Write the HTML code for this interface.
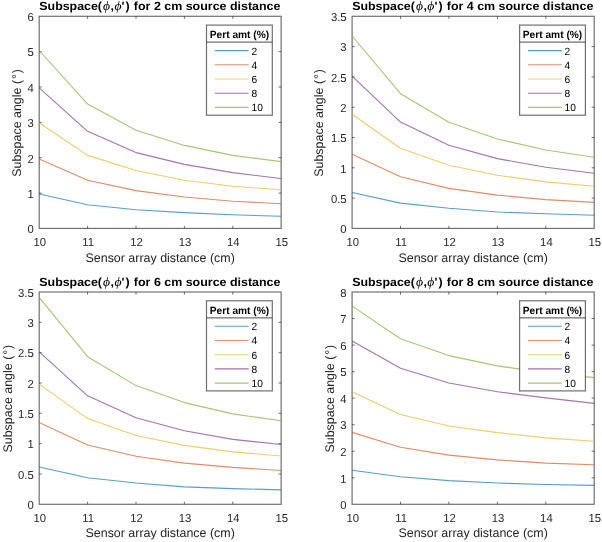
<!DOCTYPE html>
<html lang="en">
<head>
<meta charset="utf-8">
<title>Subspace angle vs sensor array distance</title>
<style>html,body{margin:0;padding:0;background:#fff}svg{display:block}</style>
</head>
<body>
<svg width="602" height="542" viewBox="0 0 602 542" text-rendering="geometricPrecision" font-family="'Liberation Sans', Arial, Helvetica, sans-serif">
<rect width="602" height="542" fill="#fff"/>
<g>
<rect x="39.2" y="16.3" width="241.95" height="212.15" fill="none" stroke="#262626" stroke-opacity="0.66" stroke-width="1.2"/>
<path d="M87.6,228.45v-2.6M87.6,16.3v2.6M136.0,228.45v-2.6M136.0,16.3v2.6M184.4,228.45v-2.6M184.4,16.3v2.6M232.8,228.45v-2.6M232.8,16.3v2.6M39.2,193.1h2.6M281.15,193.1h-2.6M39.2,157.7h2.6M281.15,157.7h-2.6M39.2,122.4h2.6M281.15,122.4h-2.6M39.2,87.0h2.6M281.15,87.0h-2.6M39.2,51.7h2.6M281.15,51.7h-2.6" stroke="#262626" stroke-opacity="0.66" stroke-width="1.0" fill="none"/>
<polyline points="39.2,194.0 87.6,204.8 136.0,209.8 184.4,212.6 232.8,214.8 281.1,216.3" fill="none" stroke="#0072BD" stroke-width="1.1" stroke-opacity="0.68" stroke-linejoin="round"/>
<polyline points="39.2,159.0 87.6,180.2 136.0,190.6 184.4,197.0 232.8,201.2 281.1,203.7" fill="none" stroke="#D95319" stroke-width="1.1" stroke-opacity="0.68" stroke-linejoin="round"/>
<polyline points="39.2,122.8 87.6,155.4 136.0,170.5 184.4,180.2 232.8,186.3 281.1,189.7" fill="none" stroke="#EDB120" stroke-width="1.1" stroke-opacity="0.68" stroke-linejoin="round"/>
<polyline points="39.2,87.9 87.6,131.3 136.0,152.6 184.4,164.4 232.8,172.6 281.1,178.5" fill="none" stroke="#7E2F8E" stroke-width="1.1" stroke-opacity="0.68" stroke-linejoin="round"/>
<polyline points="39.2,50.5 87.6,104.1 136.0,130.2 184.4,145.4 232.8,155.4 281.1,161.6" fill="none" stroke="#77AC30" stroke-width="1.1" stroke-opacity="0.68" stroke-linejoin="round"/>
<text transform="translate(39.80,245.75) scale(1.0,1.025)" font-size="11.3" text-anchor="middle" font-weight="normal" fill="#262626">10</text>
<text transform="translate(88.19,245.75) scale(1.0,1.025)" font-size="11.3" text-anchor="middle" font-weight="normal" fill="#262626">11</text>
<text transform="translate(136.58,245.75) scale(1.0,1.025)" font-size="11.3" text-anchor="middle" font-weight="normal" fill="#262626">12</text>
<text transform="translate(184.97,245.75) scale(1.0,1.025)" font-size="11.3" text-anchor="middle" font-weight="normal" fill="#262626">13</text>
<text transform="translate(233.36,245.75) scale(1.0,1.025)" font-size="11.3" text-anchor="middle" font-weight="normal" fill="#262626">14</text>
<text transform="translate(281.75,245.75) scale(1.0,1.025)" font-size="11.3" text-anchor="middle" font-weight="normal" fill="#262626">15</text>
<text transform="translate(33.70,233.25) scale(1.0,1.025)" font-size="11.3" text-anchor="end" font-weight="normal" fill="#262626">0</text>
<text transform="translate(33.70,197.89) scale(1.0,1.025)" font-size="11.3" text-anchor="end" font-weight="normal" fill="#262626">1</text>
<text transform="translate(33.70,162.53) scale(1.0,1.025)" font-size="11.3" text-anchor="end" font-weight="normal" fill="#262626">2</text>
<text transform="translate(33.70,127.17) scale(1.0,1.025)" font-size="11.3" text-anchor="end" font-weight="normal" fill="#262626">3</text>
<text transform="translate(33.70,91.82) scale(1.0,1.025)" font-size="11.3" text-anchor="end" font-weight="normal" fill="#262626">4</text>
<text transform="translate(33.70,56.46) scale(1.0,1.025)" font-size="11.3" text-anchor="end" font-weight="normal" fill="#262626">5</text>
<text transform="translate(33.70,21.10) scale(1.0,1.025)" font-size="11.3" text-anchor="end" font-weight="normal" fill="#262626">6</text>
<text x="160.17" y="261.55" font-size="12.45" text-anchor="middle" fill="#262626">Sensor array distance (cm)</text>
<text transform="translate(20.60,122.88) rotate(-90)" font-size="12.45" text-anchor="middle" fill="#262626">Subspace angle (<tspan dx="0.9">°</tspan><tspan dx="0.9">)</tspan></text>
<text transform="translate(0,10.40) scale(1,0.95)" font-size="12.45" font-weight="bold" fill="#000"><tspan x="39.30" font-size="12.4">Subspace(</tspan><tspan x="103.00" font-family="'Liberation Serif', 'DejaVu Serif', serif" font-style="italic" font-weight="normal" font-size="13.6">ϕ</tspan><tspan x="110.50">,</tspan><tspan x="114.40" font-family="'Liberation Serif', 'DejaVu Serif', serif" font-style="italic" font-weight="normal" font-size="13.6">ϕ</tspan><tspan x="121.50">'</tspan><tspan x="125.60">)</tspan><tspan x="130.40"> for 2 cm source distance</tspan></text>
<rect x="206.5" y="25.1" width="65.8" height="90.1" fill="#fff" stroke="#262626" stroke-opacity="0.66" stroke-width="1.2"/>
<path d="M206.5,42.2H272.3" stroke="#262626" stroke-opacity="0.66" stroke-width="1.2"/>
<text transform="translate(239.45,37.80) scale(1.0,1.025)" font-size="10.2" text-anchor="middle" font-weight="bold" fill="#000">Pert amt (%)</text>
<path d="M214.8,50.6H248.7" stroke="#0072BD" stroke-width="1.1" stroke-opacity="0.68"/>
<text transform="translate(251.55,54.50) scale(1.0,1.025)" font-size="10.2" text-anchor="start" font-weight="normal" fill="#000">2</text>
<path d="M214.8,64.8H248.7" stroke="#D95319" stroke-width="1.1" stroke-opacity="0.68"/>
<text transform="translate(251.55,68.70) scale(1.0,1.025)" font-size="10.2" text-anchor="start" font-weight="normal" fill="#000">4</text>
<path d="M214.8,79.0H248.7" stroke="#EDB120" stroke-width="1.1" stroke-opacity="0.68"/>
<text transform="translate(251.55,82.90) scale(1.0,1.025)" font-size="10.2" text-anchor="start" font-weight="normal" fill="#000">6</text>
<path d="M214.8,93.2H248.7" stroke="#7E2F8E" stroke-width="1.1" stroke-opacity="0.68"/>
<text transform="translate(251.55,97.10) scale(1.0,1.025)" font-size="10.2" text-anchor="start" font-weight="normal" fill="#000">8</text>
<path d="M214.8,107.4H248.7" stroke="#77AC30" stroke-width="1.1" stroke-opacity="0.68"/>
<text transform="translate(251.55,111.30) scale(1.0,1.025)" font-size="10.2" text-anchor="start" font-weight="normal" fill="#000">10</text>
</g>
<g>
<rect x="352.1" y="16.3" width="242.10" height="212.15" fill="none" stroke="#262626" stroke-opacity="0.66" stroke-width="1.2"/>
<path d="M400.5,228.45v-2.6M400.5,16.3v2.6M448.9,228.45v-2.6M448.9,16.3v2.6M497.4,228.45v-2.6M497.4,16.3v2.6M545.8,228.45v-2.6M545.8,16.3v2.6M352.1,198.1h2.6M594.2,198.1h-2.6M352.1,167.8h2.6M594.2,167.8h-2.6M352.1,137.5h2.6M594.2,137.5h-2.6M352.1,107.2h2.6M594.2,107.2h-2.6M352.1,76.9h2.6M594.2,76.9h-2.6M352.1,46.6h2.6M594.2,46.6h-2.6" stroke="#262626" stroke-opacity="0.66" stroke-width="1.0" fill="none"/>
<polyline points="352.1,192.5 400.5,203.1 448.9,208.3 497.4,212.0 545.8,213.7 594.2,215.2" fill="none" stroke="#0072BD" stroke-width="1.1" stroke-opacity="0.68" stroke-linejoin="round"/>
<polyline points="352.1,154.3 400.5,176.7 448.9,188.4 497.4,195.1 545.8,199.6 594.2,202.4" fill="none" stroke="#D95319" stroke-width="1.1" stroke-opacity="0.68" stroke-linejoin="round"/>
<polyline points="352.1,114.2 400.5,148.2 448.9,165.3 497.4,175.2 545.8,181.9 594.2,186.3" fill="none" stroke="#EDB120" stroke-width="1.1" stroke-opacity="0.68" stroke-linejoin="round"/>
<polyline points="352.1,76.2 400.5,122.1 448.9,145.2 497.4,158.6 545.8,167.2 594.2,173.3" fill="none" stroke="#7E2F8E" stroke-width="1.1" stroke-opacity="0.68" stroke-linejoin="round"/>
<polyline points="352.1,36.0 400.5,93.7 448.9,122.3 497.4,139.0 545.8,150.0 594.2,157.3" fill="none" stroke="#77AC30" stroke-width="1.1" stroke-opacity="0.68" stroke-linejoin="round"/>
<text transform="translate(352.70,245.75) scale(1.0,1.025)" font-size="11.3" text-anchor="middle" font-weight="normal" fill="#262626">10</text>
<text transform="translate(401.12,245.75) scale(1.0,1.025)" font-size="11.3" text-anchor="middle" font-weight="normal" fill="#262626">11</text>
<text transform="translate(449.54,245.75) scale(1.0,1.025)" font-size="11.3" text-anchor="middle" font-weight="normal" fill="#262626">12</text>
<text transform="translate(497.96,245.75) scale(1.0,1.025)" font-size="11.3" text-anchor="middle" font-weight="normal" fill="#262626">13</text>
<text transform="translate(546.38,245.75) scale(1.0,1.025)" font-size="11.3" text-anchor="middle" font-weight="normal" fill="#262626">14</text>
<text transform="translate(594.80,245.75) scale(1.0,1.025)" font-size="11.3" text-anchor="middle" font-weight="normal" fill="#262626">15</text>
<text transform="translate(346.60,233.25) scale(1.0,1.025)" font-size="11.3" text-anchor="end" font-weight="normal" fill="#262626">0</text>
<text transform="translate(346.60,202.94) scale(1.0,1.025)" font-size="11.3" text-anchor="end" font-weight="normal" fill="#262626">0.5</text>
<text transform="translate(346.60,172.64) scale(1.0,1.025)" font-size="11.3" text-anchor="end" font-weight="normal" fill="#262626">1</text>
<text transform="translate(346.60,142.33) scale(1.0,1.025)" font-size="11.3" text-anchor="end" font-weight="normal" fill="#262626">1.5</text>
<text transform="translate(346.60,112.02) scale(1.0,1.025)" font-size="11.3" text-anchor="end" font-weight="normal" fill="#262626">2</text>
<text transform="translate(346.60,81.71) scale(1.0,1.025)" font-size="11.3" text-anchor="end" font-weight="normal" fill="#262626">2.5</text>
<text transform="translate(346.60,51.41) scale(1.0,1.025)" font-size="11.3" text-anchor="end" font-weight="normal" fill="#262626">3</text>
<text transform="translate(346.60,21.10) scale(1.0,1.025)" font-size="11.3" text-anchor="end" font-weight="normal" fill="#262626">3.5</text>
<text x="473.15" y="261.55" font-size="12.45" text-anchor="middle" fill="#262626">Sensor array distance (cm)</text>
<text transform="translate(323.40,122.88) rotate(-90)" font-size="12.45" text-anchor="middle" fill="#262626">Subspace angle (<tspan dx="0.9">°</tspan><tspan dx="0.9">)</tspan></text>
<text transform="translate(0,10.40) scale(1,0.95)" font-size="12.45" font-weight="bold" fill="#000"><tspan x="352.20" font-size="12.4">Subspace(</tspan><tspan x="415.90" font-family="'Liberation Serif', 'DejaVu Serif', serif" font-style="italic" font-weight="normal" font-size="13.6">ϕ</tspan><tspan x="423.40">,</tspan><tspan x="427.30" font-family="'Liberation Serif', 'DejaVu Serif', serif" font-style="italic" font-weight="normal" font-size="13.6">ϕ</tspan><tspan x="434.40">'</tspan><tspan x="438.50">)</tspan><tspan x="443.30"> for 4 cm source distance</tspan></text>
<rect x="519.6" y="25.1" width="65.8" height="90.1" fill="#fff" stroke="#262626" stroke-opacity="0.66" stroke-width="1.2"/>
<path d="M519.6,42.2H585.4" stroke="#262626" stroke-opacity="0.66" stroke-width="1.2"/>
<text transform="translate(552.50,37.80) scale(1.0,1.025)" font-size="10.2" text-anchor="middle" font-weight="bold" fill="#000">Pert amt (%)</text>
<path d="M527.9,50.6H561.8" stroke="#0072BD" stroke-width="1.1" stroke-opacity="0.68"/>
<text transform="translate(564.60,54.50) scale(1.0,1.025)" font-size="10.2" text-anchor="start" font-weight="normal" fill="#000">2</text>
<path d="M527.9,64.8H561.8" stroke="#D95319" stroke-width="1.1" stroke-opacity="0.68"/>
<text transform="translate(564.60,68.70) scale(1.0,1.025)" font-size="10.2" text-anchor="start" font-weight="normal" fill="#000">4</text>
<path d="M527.9,79.0H561.8" stroke="#EDB120" stroke-width="1.1" stroke-opacity="0.68"/>
<text transform="translate(564.60,82.90) scale(1.0,1.025)" font-size="10.2" text-anchor="start" font-weight="normal" fill="#000">6</text>
<path d="M527.9,93.2H561.8" stroke="#7E2F8E" stroke-width="1.1" stroke-opacity="0.68"/>
<text transform="translate(564.60,97.10) scale(1.0,1.025)" font-size="10.2" text-anchor="start" font-weight="normal" fill="#000">8</text>
<path d="M527.9,107.4H561.8" stroke="#77AC30" stroke-width="1.1" stroke-opacity="0.68"/>
<text transform="translate(564.60,111.30) scale(1.0,1.025)" font-size="10.2" text-anchor="start" font-weight="normal" fill="#000">10</text>
</g>
<g>
<rect x="39.2" y="292.0" width="241.95" height="212.30" fill="none" stroke="#262626" stroke-opacity="0.66" stroke-width="1.2"/>
<path d="M87.6,504.3v-2.6M87.6,292.0v2.6M136.0,504.3v-2.6M136.0,292.0v2.6M184.4,504.3v-2.6M184.4,292.0v2.6M232.8,504.3v-2.6M232.8,292.0v2.6M39.2,474.0h2.6M281.15,474.0h-2.6M39.2,443.6h2.6M281.15,443.6h-2.6M39.2,413.3h2.6M281.15,413.3h-2.6M39.2,383.0h2.6M281.15,383.0h-2.6M39.2,352.7h2.6M281.15,352.7h-2.6M39.2,322.3h2.6M281.15,322.3h-2.6" stroke="#262626" stroke-opacity="0.66" stroke-width="1.0" fill="none"/>
<polyline points="39.2,467.0 87.6,477.8 136.0,483.0 184.4,486.9 232.8,488.6 281.1,489.9" fill="none" stroke="#0072BD" stroke-width="1.1" stroke-opacity="0.68" stroke-linejoin="round"/>
<polyline points="39.2,422.5 87.6,445.0 136.0,456.2 184.4,463.1 232.8,467.4 281.1,470.5" fill="none" stroke="#D95319" stroke-width="1.1" stroke-opacity="0.68" stroke-linejoin="round"/>
<polyline points="39.2,384.1 87.6,418.6 136.0,435.5 184.4,445.4 232.8,451.9 281.1,456.0" fill="none" stroke="#EDB120" stroke-width="1.1" stroke-opacity="0.68" stroke-linejoin="round"/>
<polyline points="39.2,351.9 87.6,395.8 136.0,417.8 184.4,430.7 232.8,439.4 281.1,444.5" fill="none" stroke="#7E2F8E" stroke-width="1.1" stroke-opacity="0.68" stroke-linejoin="round"/>
<polyline points="39.2,297.3 87.6,356.7 136.0,385.6 184.4,402.6 232.8,413.9 281.1,420.8" fill="none" stroke="#77AC30" stroke-width="1.1" stroke-opacity="0.68" stroke-linejoin="round"/>
<text transform="translate(39.80,521.60) scale(1.0,1.025)" font-size="11.3" text-anchor="middle" font-weight="normal" fill="#262626">10</text>
<text transform="translate(88.19,521.60) scale(1.0,1.025)" font-size="11.3" text-anchor="middle" font-weight="normal" fill="#262626">11</text>
<text transform="translate(136.58,521.60) scale(1.0,1.025)" font-size="11.3" text-anchor="middle" font-weight="normal" fill="#262626">12</text>
<text transform="translate(184.97,521.60) scale(1.0,1.025)" font-size="11.3" text-anchor="middle" font-weight="normal" fill="#262626">13</text>
<text transform="translate(233.36,521.60) scale(1.0,1.025)" font-size="11.3" text-anchor="middle" font-weight="normal" fill="#262626">14</text>
<text transform="translate(281.75,521.60) scale(1.0,1.025)" font-size="11.3" text-anchor="middle" font-weight="normal" fill="#262626">15</text>
<text transform="translate(33.70,509.10) scale(1.0,1.025)" font-size="11.3" text-anchor="end" font-weight="normal" fill="#262626">0</text>
<text transform="translate(33.70,478.77) scale(1.0,1.025)" font-size="11.3" text-anchor="end" font-weight="normal" fill="#262626">0.5</text>
<text transform="translate(33.70,448.44) scale(1.0,1.025)" font-size="11.3" text-anchor="end" font-weight="normal" fill="#262626">1</text>
<text transform="translate(33.70,418.11) scale(1.0,1.025)" font-size="11.3" text-anchor="end" font-weight="normal" fill="#262626">1.5</text>
<text transform="translate(33.70,387.79) scale(1.0,1.025)" font-size="11.3" text-anchor="end" font-weight="normal" fill="#262626">2</text>
<text transform="translate(33.70,357.46) scale(1.0,1.025)" font-size="11.3" text-anchor="end" font-weight="normal" fill="#262626">2.5</text>
<text transform="translate(33.70,327.13) scale(1.0,1.025)" font-size="11.3" text-anchor="end" font-weight="normal" fill="#262626">3</text>
<text transform="translate(33.70,296.80) scale(1.0,1.025)" font-size="11.3" text-anchor="end" font-weight="normal" fill="#262626">3.5</text>
<text x="160.17" y="537.40" font-size="12.45" text-anchor="middle" fill="#262626">Sensor array distance (cm)</text>
<text transform="translate(11.60,398.65) rotate(-90)" font-size="12.45" text-anchor="middle" fill="#262626">Subspace angle (<tspan dx="0.9">°</tspan><tspan dx="0.9">)</tspan></text>
<text transform="translate(0,286.10) scale(1,0.95)" font-size="12.45" font-weight="bold" fill="#000"><tspan x="39.30" font-size="12.4">Subspace(</tspan><tspan x="103.00" font-family="'Liberation Serif', 'DejaVu Serif', serif" font-style="italic" font-weight="normal" font-size="13.6">ϕ</tspan><tspan x="110.50">,</tspan><tspan x="114.40" font-family="'Liberation Serif', 'DejaVu Serif', serif" font-style="italic" font-weight="normal" font-size="13.6">ϕ</tspan><tspan x="121.50">'</tspan><tspan x="125.60">)</tspan><tspan x="130.40"> for 6 cm source distance</tspan></text>
<rect x="206.5" y="300.8" width="65.8" height="90.1" fill="#fff" stroke="#262626" stroke-opacity="0.66" stroke-width="1.2"/>
<path d="M206.5,317.9H272.3" stroke="#262626" stroke-opacity="0.66" stroke-width="1.2"/>
<text transform="translate(239.45,313.50) scale(1.0,1.025)" font-size="10.2" text-anchor="middle" font-weight="bold" fill="#000">Pert amt (%)</text>
<path d="M214.8,326.3H248.7" stroke="#0072BD" stroke-width="1.1" stroke-opacity="0.68"/>
<text transform="translate(251.55,330.20) scale(1.0,1.025)" font-size="10.2" text-anchor="start" font-weight="normal" fill="#000">2</text>
<path d="M214.8,340.5H248.7" stroke="#D95319" stroke-width="1.1" stroke-opacity="0.68"/>
<text transform="translate(251.55,344.40) scale(1.0,1.025)" font-size="10.2" text-anchor="start" font-weight="normal" fill="#000">4</text>
<path d="M214.8,354.7H248.7" stroke="#EDB120" stroke-width="1.1" stroke-opacity="0.68"/>
<text transform="translate(251.55,358.60) scale(1.0,1.025)" font-size="10.2" text-anchor="start" font-weight="normal" fill="#000">6</text>
<path d="M214.8,368.9H248.7" stroke="#7E2F8E" stroke-width="1.1" stroke-opacity="0.68"/>
<text transform="translate(251.55,372.80) scale(1.0,1.025)" font-size="10.2" text-anchor="start" font-weight="normal" fill="#000">8</text>
<path d="M214.8,383.1H248.7" stroke="#77AC30" stroke-width="1.1" stroke-opacity="0.68"/>
<text transform="translate(251.55,387.00) scale(1.0,1.025)" font-size="10.2" text-anchor="start" font-weight="normal" fill="#000">10</text>
</g>
<g>
<rect x="352.1" y="292.0" width="242.10" height="212.30" fill="none" stroke="#262626" stroke-opacity="0.66" stroke-width="1.2"/>
<path d="M400.5,504.3v-2.6M400.5,292.0v2.6M448.9,504.3v-2.6M448.9,292.0v2.6M497.4,504.3v-2.6M497.4,292.0v2.6M545.8,504.3v-2.6M545.8,292.0v2.6M352.1,477.8h2.6M594.2,477.8h-2.6M352.1,451.2h2.6M594.2,451.2h-2.6M352.1,424.7h2.6M594.2,424.7h-2.6M352.1,398.1h2.6M594.2,398.1h-2.6M352.1,371.6h2.6M594.2,371.6h-2.6M352.1,345.1h2.6M594.2,345.1h-2.6M352.1,318.5h2.6M594.2,318.5h-2.6" stroke="#262626" stroke-opacity="0.66" stroke-width="1.0" fill="none"/>
<polyline points="352.1,470.2 400.5,476.7 448.9,480.6 497.4,483.0 545.8,484.5 594.2,485.4" fill="none" stroke="#0072BD" stroke-width="1.1" stroke-opacity="0.68" stroke-linejoin="round"/>
<polyline points="352.1,432.4 400.5,447.3 448.9,455.1 497.4,459.9 545.8,463.1 594.2,464.8" fill="none" stroke="#D95319" stroke-width="1.1" stroke-opacity="0.68" stroke-linejoin="round"/>
<polyline points="352.1,391.7 400.5,414.5 448.9,426.0 497.4,432.6 545.8,437.9 594.2,441.2" fill="none" stroke="#EDB120" stroke-width="1.1" stroke-opacity="0.68" stroke-linejoin="round"/>
<polyline points="352.1,340.9 400.5,368.3 448.9,383.0 497.4,391.8 545.8,397.9 594.2,403.4" fill="none" stroke="#7E2F8E" stroke-width="1.1" stroke-opacity="0.68" stroke-linejoin="round"/>
<polyline points="352.1,306.1 400.5,338.8 448.9,355.6 497.4,365.9 545.8,372.6 594.2,377.6" fill="none" stroke="#77AC30" stroke-width="1.1" stroke-opacity="0.68" stroke-linejoin="round"/>
<text transform="translate(352.70,521.60) scale(1.0,1.025)" font-size="11.3" text-anchor="middle" font-weight="normal" fill="#262626">10</text>
<text transform="translate(401.12,521.60) scale(1.0,1.025)" font-size="11.3" text-anchor="middle" font-weight="normal" fill="#262626">11</text>
<text transform="translate(449.54,521.60) scale(1.0,1.025)" font-size="11.3" text-anchor="middle" font-weight="normal" fill="#262626">12</text>
<text transform="translate(497.96,521.60) scale(1.0,1.025)" font-size="11.3" text-anchor="middle" font-weight="normal" fill="#262626">13</text>
<text transform="translate(546.38,521.60) scale(1.0,1.025)" font-size="11.3" text-anchor="middle" font-weight="normal" fill="#262626">14</text>
<text transform="translate(594.80,521.60) scale(1.0,1.025)" font-size="11.3" text-anchor="middle" font-weight="normal" fill="#262626">15</text>
<text transform="translate(346.60,509.10) scale(1.0,1.025)" font-size="11.3" text-anchor="end" font-weight="normal" fill="#262626">0</text>
<text transform="translate(346.60,482.56) scale(1.0,1.025)" font-size="11.3" text-anchor="end" font-weight="normal" fill="#262626">1</text>
<text transform="translate(346.60,456.03) scale(1.0,1.025)" font-size="11.3" text-anchor="end" font-weight="normal" fill="#262626">2</text>
<text transform="translate(346.60,429.49) scale(1.0,1.025)" font-size="11.3" text-anchor="end" font-weight="normal" fill="#262626">3</text>
<text transform="translate(346.60,402.95) scale(1.0,1.025)" font-size="11.3" text-anchor="end" font-weight="normal" fill="#262626">4</text>
<text transform="translate(346.60,376.41) scale(1.0,1.025)" font-size="11.3" text-anchor="end" font-weight="normal" fill="#262626">5</text>
<text transform="translate(346.60,349.88) scale(1.0,1.025)" font-size="11.3" text-anchor="end" font-weight="normal" fill="#262626">6</text>
<text transform="translate(346.60,323.34) scale(1.0,1.025)" font-size="11.3" text-anchor="end" font-weight="normal" fill="#262626">7</text>
<text transform="translate(346.60,296.80) scale(1.0,1.025)" font-size="11.3" text-anchor="end" font-weight="normal" fill="#262626">8</text>
<text x="473.15" y="537.40" font-size="12.45" text-anchor="middle" fill="#262626">Sensor array distance (cm)</text>
<text transform="translate(333.50,398.65) rotate(-90)" font-size="12.45" text-anchor="middle" fill="#262626">Subspace angle (<tspan dx="0.9">°</tspan><tspan dx="0.9">)</tspan></text>
<text transform="translate(0,286.10) scale(1,0.95)" font-size="12.45" font-weight="bold" fill="#000"><tspan x="352.20" font-size="12.4">Subspace(</tspan><tspan x="415.90" font-family="'Liberation Serif', 'DejaVu Serif', serif" font-style="italic" font-weight="normal" font-size="13.6">ϕ</tspan><tspan x="423.40">,</tspan><tspan x="427.30" font-family="'Liberation Serif', 'DejaVu Serif', serif" font-style="italic" font-weight="normal" font-size="13.6">ϕ</tspan><tspan x="434.40">'</tspan><tspan x="438.50">)</tspan><tspan x="443.30"> for 8 cm source distance</tspan></text>
<rect x="519.6" y="300.8" width="65.8" height="90.1" fill="#fff" stroke="#262626" stroke-opacity="0.66" stroke-width="1.2"/>
<path d="M519.6,317.9H585.4" stroke="#262626" stroke-opacity="0.66" stroke-width="1.2"/>
<text transform="translate(552.50,313.50) scale(1.0,1.025)" font-size="10.2" text-anchor="middle" font-weight="bold" fill="#000">Pert amt (%)</text>
<path d="M527.9,326.3H561.8" stroke="#0072BD" stroke-width="1.1" stroke-opacity="0.68"/>
<text transform="translate(564.60,330.20) scale(1.0,1.025)" font-size="10.2" text-anchor="start" font-weight="normal" fill="#000">2</text>
<path d="M527.9,340.5H561.8" stroke="#D95319" stroke-width="1.1" stroke-opacity="0.68"/>
<text transform="translate(564.60,344.40) scale(1.0,1.025)" font-size="10.2" text-anchor="start" font-weight="normal" fill="#000">4</text>
<path d="M527.9,354.7H561.8" stroke="#EDB120" stroke-width="1.1" stroke-opacity="0.68"/>
<text transform="translate(564.60,358.60) scale(1.0,1.025)" font-size="10.2" text-anchor="start" font-weight="normal" fill="#000">6</text>
<path d="M527.9,368.9H561.8" stroke="#7E2F8E" stroke-width="1.1" stroke-opacity="0.68"/>
<text transform="translate(564.60,372.80) scale(1.0,1.025)" font-size="10.2" text-anchor="start" font-weight="normal" fill="#000">8</text>
<path d="M527.9,383.1H561.8" stroke="#77AC30" stroke-width="1.1" stroke-opacity="0.68"/>
<text transform="translate(564.60,387.00) scale(1.0,1.025)" font-size="10.2" text-anchor="start" font-weight="normal" fill="#000">10</text>
</g>
</svg>
</body>
</html>
